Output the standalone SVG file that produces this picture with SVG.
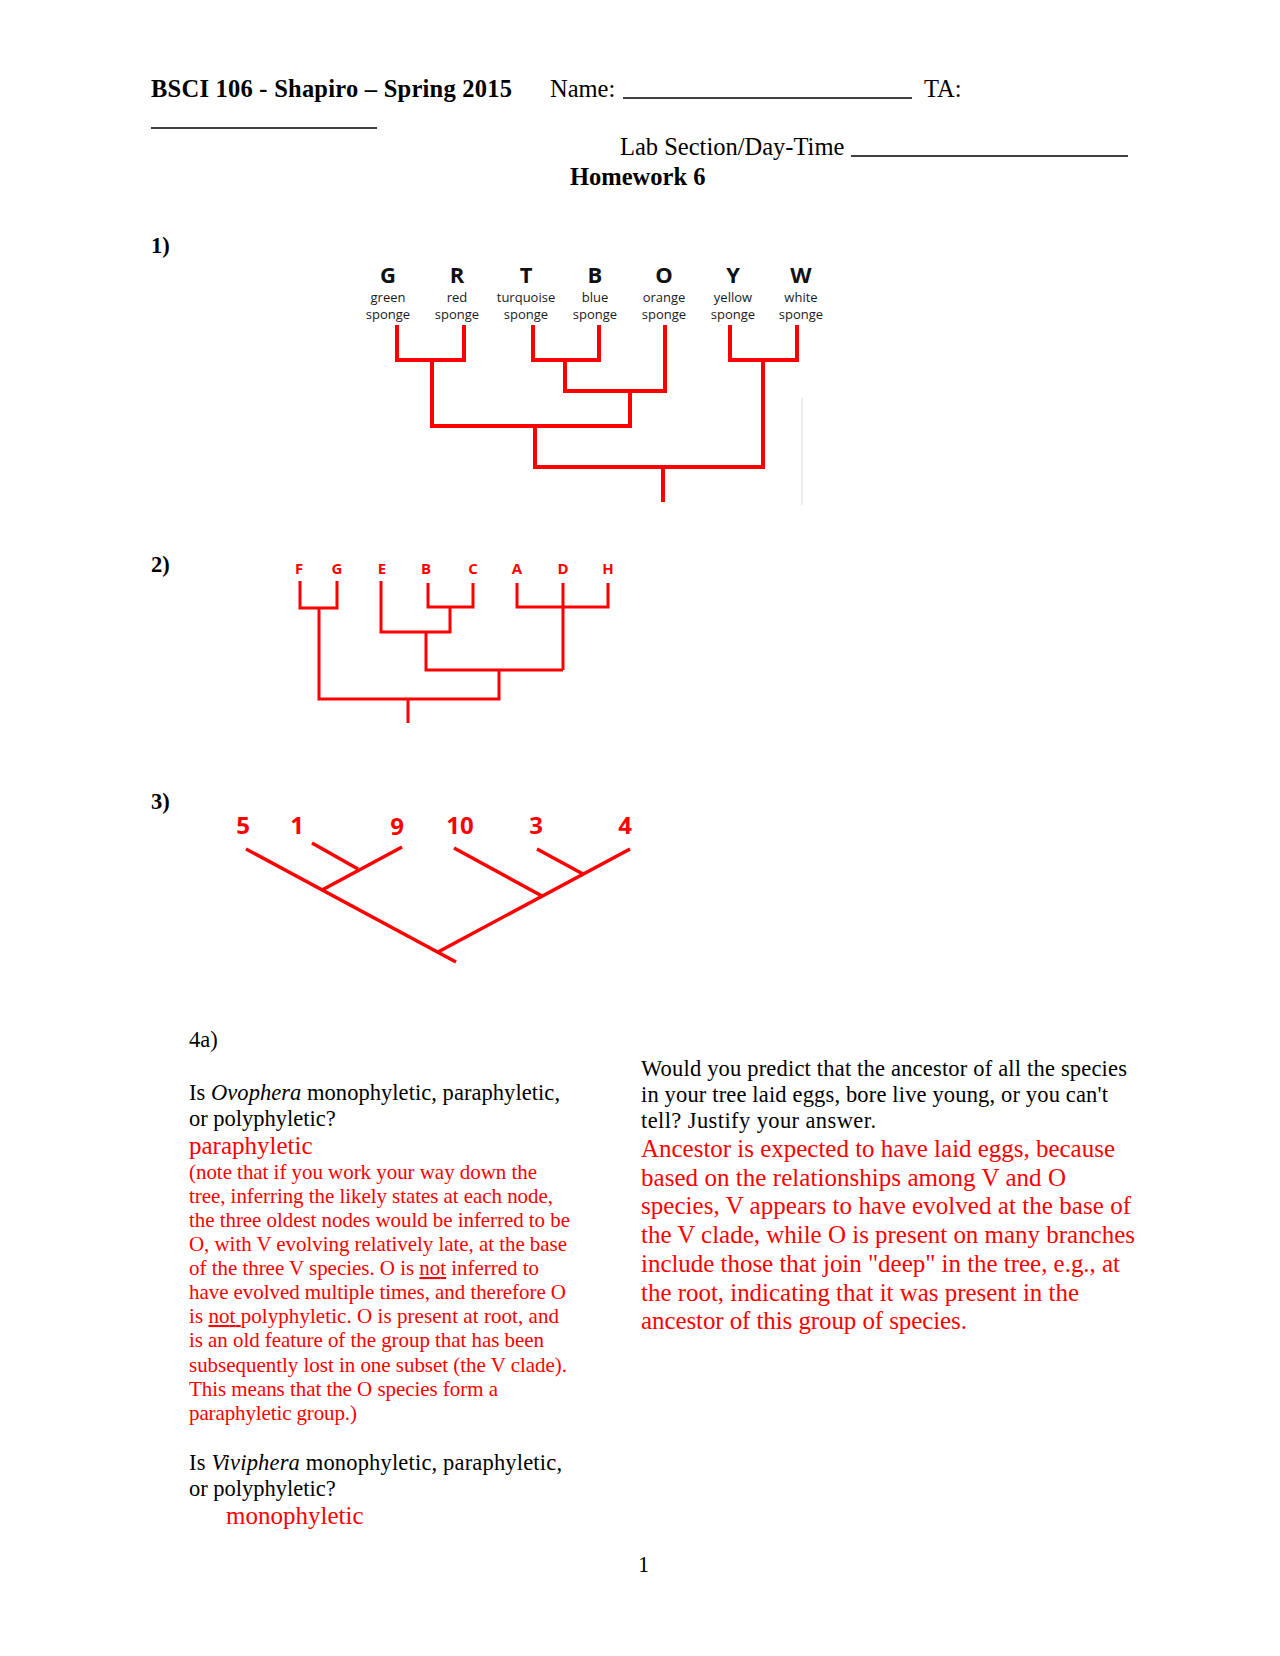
<svg xmlns="http://www.w3.org/2000/svg" width="1280" height="1656" viewBox="0 0 1280 1656">
<style>
.s{font-family:"Liberation Serif","Times New Roman",serif;font-size:22.5px;fill:#000}
.h{font-family:"Liberation Serif","Times New Roman",serif;font-size:24.5px;fill:#000}
.b{font-weight:bold}
.r{fill:#ff0000}
.rn{font-family:"Liberation Serif","Times New Roman",serif;font-size:21px;fill:#ff0000}
.rl{font-family:"Liberation Serif","Times New Roman",serif;font-size:25px;fill:#ff0000}
.t1{font-family:"Open Sans","Noto Sans",sans-serif;font-weight:bold;font-size:22px;fill:#111;text-anchor:middle}
.t1s{font-family:"Open Sans","Noto Sans",sans-serif;font-size:13px;fill:#1a1a1a;text-anchor:middle}
.t2{font-family:"Open Sans","Noto Sans",sans-serif;font-weight:bold;font-size:15px;fill:#ff0000;text-anchor:middle}
.t3{font-family:"Open Sans","Noto Sans",sans-serif;font-weight:bold;font-size:24px;fill:#ff0000;text-anchor:middle}
.e1{fill:none;stroke:#ff0000;stroke-width:4;stroke-linecap:butt;stroke-linejoin:miter}
.e2{fill:none;stroke:#ff0000;stroke-width:3;stroke-linecap:butt;stroke-linejoin:miter}
.e3{fill:none;stroke:#ff0000;stroke-width:3.5;stroke-linecap:butt}
.ul{stroke:#000;stroke-width:1.3}
.u{text-decoration:underline}
</style>
<rect width="1280" height="1656" fill="#fff"/>

<g id="header">
<text class="h b" x="151" y="97" textLength="361">BSCI 106 - Shapiro – Spring 2015</text>
<text class="h" x="550" y="97">Name:</text>
<line class="ul" x1="623" y1="98" x2="912" y2="98"/>
<text class="h" x="924" y="97">TA:</text>
<line class="ul" x1="151" y1="128" x2="377" y2="128"/>
<text class="h" x="620" y="155">Lab Section/Day-Time</text>
<line class="ul" x1="851" y1="156" x2="1128" y2="156"/>
<text class="h b" x="570" y="185">Homework 6</text>
</g>

<g id="q1-label"><text class="s b" x="151" y="253">1)</text></g>
<g id="q2-label"><text class="s b" x="151" y="572">2)</text></g>
<g id="q3-label"><text class="s b" x="151" y="809">3)</text></g>

<!-- Tree 1 nodes -->
<g id="t1-G"><text class="t1" x="388" y="283">G</text><text class="t1s" x="388" y="302">green</text><text class="t1s" x="388" y="319">sponge</text></g>
<g id="t1-R"><text class="t1" x="457" y="283">R</text><text class="t1s" x="457" y="302">red</text><text class="t1s" x="457" y="319">sponge</text></g>
<g id="t1-T"><text class="t1" x="526" y="283">T</text><text class="t1s" x="526" y="302">turquoise</text><text class="t1s" x="526" y="319">sponge</text></g>
<g id="t1-B"><text class="t1" x="595" y="283">B</text><text class="t1s" x="595" y="302">blue</text><text class="t1s" x="595" y="319">sponge</text></g>
<g id="t1-O"><text class="t1" x="664" y="283">O</text><text class="t1s" x="664" y="302">orange</text><text class="t1s" x="664" y="319">sponge</text></g>
<g id="t1-Y"><text class="t1" x="733" y="283">Y</text><text class="t1s" x="733" y="302">yellow</text><text class="t1s" x="733" y="319">sponge</text></g>
<g id="t1-W"><text class="t1" x="801" y="283">W</text><text class="t1s" x="801" y="302">white</text><text class="t1s" x="801" y="319">sponge</text></g>

<!-- Tree 2 nodes -->
<g id="t2-F"><text class="t2" x="299" y="574">F</text></g>
<g id="t2-G"><text class="t2" x="337" y="574">G</text></g>
<g id="t2-E"><text class="t2" x="382" y="574">E</text></g>
<g id="t2-B"><text class="t2" x="426" y="574">B</text></g>
<g id="t2-C"><text class="t2" x="473" y="574">C</text></g>
<g id="t2-A"><text class="t2" x="517" y="574">A</text></g>
<g id="t2-D"><text class="t2" x="563" y="574">D</text></g>
<g id="t2-H"><text class="t2" x="608" y="574">H</text></g>

<!-- Tree 3 nodes -->
<g id="t3-5"><text class="t3" x="243" y="834">5</text></g>
<g id="t3-1"><text class="t3" x="297" y="834">1</text></g>
<g id="t3-9"><text class="t3" x="397" y="835">9</text></g>
<g id="t3-10"><text class="t3" x="460" y="834">10</text></g>
<g id="t3-3"><text class="t3" x="536" y="834">3</text></g>
<g id="t3-4"><text class="t3" x="625" y="834">4</text></g>

<g id="connectors">
<!-- tree 1 -->
<polyline class="e1" points="397,325 397,360 464,360 464,325"/>
<polyline class="e1" points="533,325 533,360 599,360 599,325"/>
<polyline class="e1" points="730,325 730,360 797,360 797,325"/>
<polyline class="e1" points="565,360 565,391 665,391 665,325"/>
<polyline class="e1" points="432,360 432,426 630,426 630,391"/>
<polyline class="e1" points="535,426 535,467 763,467 763,360"/>
<line class="e1" x1="663" y1="467" x2="663" y2="502"/>
<line x1="802" y1="398" x2="802" y2="505" stroke="#f1eded" stroke-width="2"/>
<!-- tree 2 -->
<polyline class="e2" points="300,581 300,608 337,608 337,581"/>
<polyline class="e2" points="428,583 428,607 473,607 473,583"/>
<polyline class="e2" points="517,583 517,607 608,607 608,583"/>
<line class="e2" x1="563" y1="583" x2="563" y2="670"/>
<polyline class="e2" points="381,581 381,632 450,632 450,607"/>
<polyline class="e2" points="426,632 426,670 563,670"/>
<polyline class="e2" points="319,608 319,699 499,699 499,670"/>
<line class="e2" x1="408" y1="699" x2="408" y2="723"/>
<!-- tree 3 -->
<line class="e3" x1="246" y1="849" x2="456" y2="962"/>
<line class="e3" x1="630" y1="849" x2="438" y2="952"/>
<line class="e3" x1="402" y1="847" x2="322" y2="890"/>
<line class="e3" x1="312" y1="843" x2="358" y2="869"/>
<line class="e3" x1="454" y1="848" x2="542" y2="896"/>
<line class="e3" x1="537" y1="849" x2="583" y2="874"/>
</g>

<g id="q4a-left">
<text class="s" x="189" y="1047">4a)</text>
<text class="s" x="189" y="1100" textLength="371">Is <tspan font-style="italic">Ovophera</tspan> monophyletic, paraphyletic,</text>
<text class="s" x="189" y="1126">or polyphyletic?</text>
<text class="rl" x="189" y="1154">paraphyletic</text>
<text class="rn" x="189" y="1179" textLength="348">(note that if you work your way down the</text>
<text class="rn" x="189" y="1203" textLength="364">tree, inferring the likely states at each node,</text>
<text class="rn" x="189" y="1227" textLength="381">the three oldest nodes would be inferred to be</text>
<text class="rn" x="189" y="1251" textLength="378">O, with V evolving relatively late, at the base</text>
<text class="rn" x="189" y="1275" textLength="350">of the three V species. O is <tspan class="u">not</tspan> inferred to</text>
<text class="rn" x="189" y="1299" textLength="377">have evolved multiple times, and therefore O</text>
<text class="rn" x="189" y="1323" textLength="370">is <tspan class="u">not </tspan>polyphyletic.  O is present at root, and</text>
<text class="rn" x="189" y="1347" textLength="355">is an old feature of the group that has been</text>
<text class="rn" x="189" y="1372" textLength="378">subsequently lost in one subset (the V clade).</text>
<text class="rn" x="189" y="1396" textLength="309">This means that the O species form a</text>
<text class="rn" x="189" y="1420" textLength="168">paraphyletic group.)</text>
<text class="s" x="189" y="1470" textLength="373">Is <tspan font-style="italic">Viviphera</tspan> monophyletic, paraphyletic,</text>
<text class="s" x="189" y="1496">or polyphyletic?</text>
<text class="rl" x="226" y="1524">monophyletic</text>
</g>

<g id="q4a-right">
<text class="s" x="641" y="1076" textLength="486">Would you predict that the ancestor of all the species</text>
<text class="s" x="641" y="1102" textLength="467">in your tree laid eggs, bore live young, or you can't</text>
<text class="s" x="641" y="1128" textLength="235">tell?  Justify your answer.</text>
<text class="rl" x="641" y="1157" textLength="474">Ancestor is expected to have laid eggs, because</text>
<text class="rl" x="641" y="1186" textLength="425">based on the relationships among V and O</text>
<text class="rl" x="641" y="1214" textLength="490">species, V appears to have evolved at the base of</text>
<text class="rl" x="641" y="1243" textLength="494">the V clade, while O is present on many branches</text>
<text class="rl" x="641" y="1272" textLength="479">include those that join "deep" in the tree, e.g., at</text>
<text class="rl" x="641" y="1301" textLength="438">the root, indicating that it was present in the</text>
<text class="rl" x="641" y="1329" textLength="326">ancestor of this group of species.</text>
</g>

<g id="page-number"><text class="s" x="638" y="1572">1</text></g>
</svg>
